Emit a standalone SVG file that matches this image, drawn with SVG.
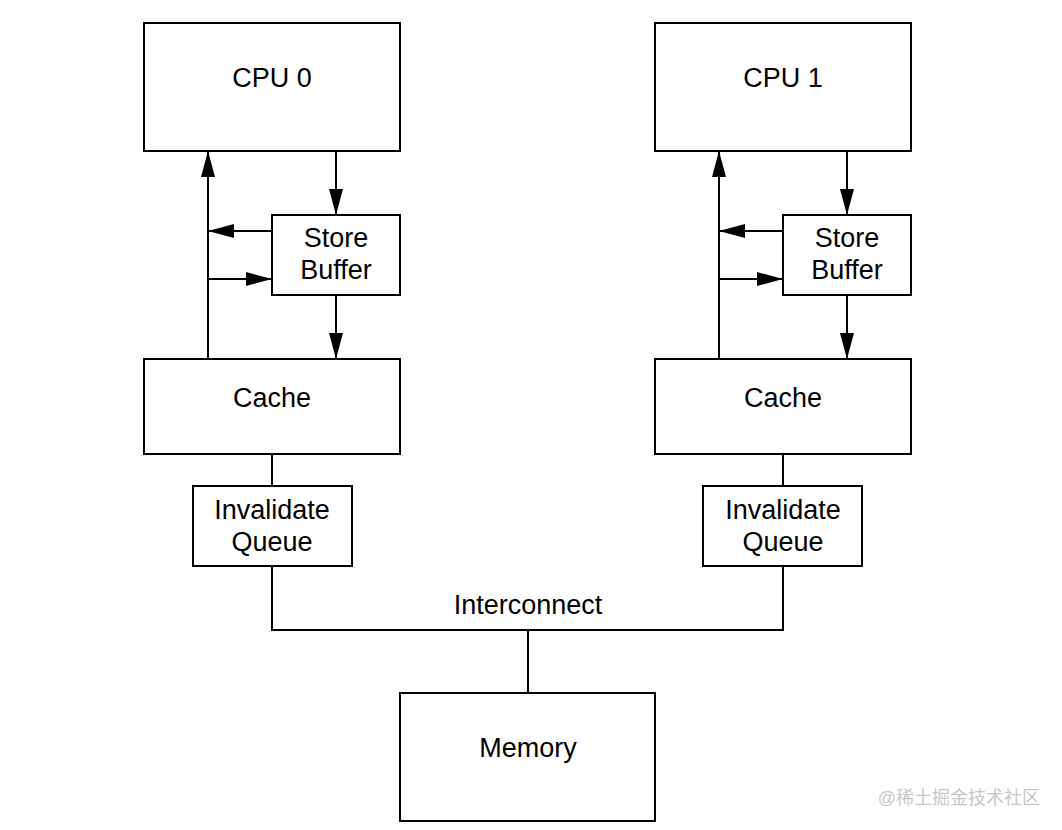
<svg xmlns="http://www.w3.org/2000/svg" width="1062" height="830" viewBox="0 0 1062 830">
<style>
rect{fill:#fff;stroke:#000;stroke-width:2}
.c line,.c polyline{stroke:#000;stroke-width:2;fill:none}
text{font-family:"Liberation Sans",Arial,sans-serif;font-size:27px;text-anchor:middle;fill:#000}
</style>
<defs><marker id="a" markerWidth="26" markerHeight="14" refX="25" refY="7" orient="auto" markerUnits="userSpaceOnUse"><path d="M0,0L26,7L0,14z" fill="#000"/></marker></defs>
<rect width="1062" height="830" style="stroke:none"/>
<g class="c">
<line x1="208" y1="359" x2="208" y2="152" marker-end="url(#a)"/>
<line x1="336" y1="151" x2="336" y2="214" marker-end="url(#a)"/>
<line x1="272" y1="231" x2="209" y2="231" marker-end="url(#a)"/>
<line x1="208" y1="279" x2="271" y2="279" marker-end="url(#a)"/>
<line x1="336" y1="295" x2="336" y2="358" marker-end="url(#a)"/>
<line x1="272" y1="454" x2="272" y2="486"/>
<line x1="719" y1="359" x2="719" y2="152" marker-end="url(#a)"/>
<line x1="847" y1="151" x2="847" y2="214" marker-end="url(#a)"/>
<line x1="783" y1="231" x2="720" y2="231" marker-end="url(#a)"/>
<line x1="719" y1="279" x2="782" y2="279" marker-end="url(#a)"/>
<line x1="847" y1="295" x2="847" y2="358" marker-end="url(#a)"/>
<line x1="783" y1="454" x2="783" y2="486"/>
<polyline points="272,566 272,630 783,630 783,566"/>
<line x1="528" y1="630" x2="528" y2="693"/>
</g>
<g id="cpu0"><rect x="144" y="23" width="256" height="128"/><text x="272" y="87">CPU 0</text></g>
<g id="sb0"><rect x="272" y="215" width="128" height="80"/><text x="336" y="247">Store</text><text x="336" y="279">Buffer</text></g>
<g id="cache0"><rect x="144" y="359" width="256" height="95"/><text x="272" y="407">Cache</text></g>
<g id="iq0"><rect x="193" y="486" width="159" height="80"/><text x="272" y="519">Invalidate</text><text x="272" y="551">Queue</text></g>
<g id="cpu1"><rect x="655" y="23" width="256" height="128"/><text x="783" y="87">CPU 1</text></g>
<g id="sb1"><rect x="783" y="215" width="128" height="80"/><text x="847" y="247">Store</text><text x="847" y="279">Buffer</text></g>
<g id="cache1"><rect x="655" y="359" width="256" height="95"/><text x="783" y="407">Cache</text></g>
<g id="iq1"><rect x="703" y="486" width="159" height="80"/><text x="783" y="519">Invalidate</text><text x="783" y="551">Queue</text></g>
<g id="memory"><rect x="400" y="693" width="255" height="128"/><text x="528" y="757">Memory</text></g>
<text x="528" y="614">Interconnect</text>
<text x="1040" y="804" style="font-size:18px;text-anchor:end;fill:#c8c8c8;font-family:'Liberation Sans','Noto Sans CJK SC',sans-serif">@稀土掘金技术社区</text>
</svg>
